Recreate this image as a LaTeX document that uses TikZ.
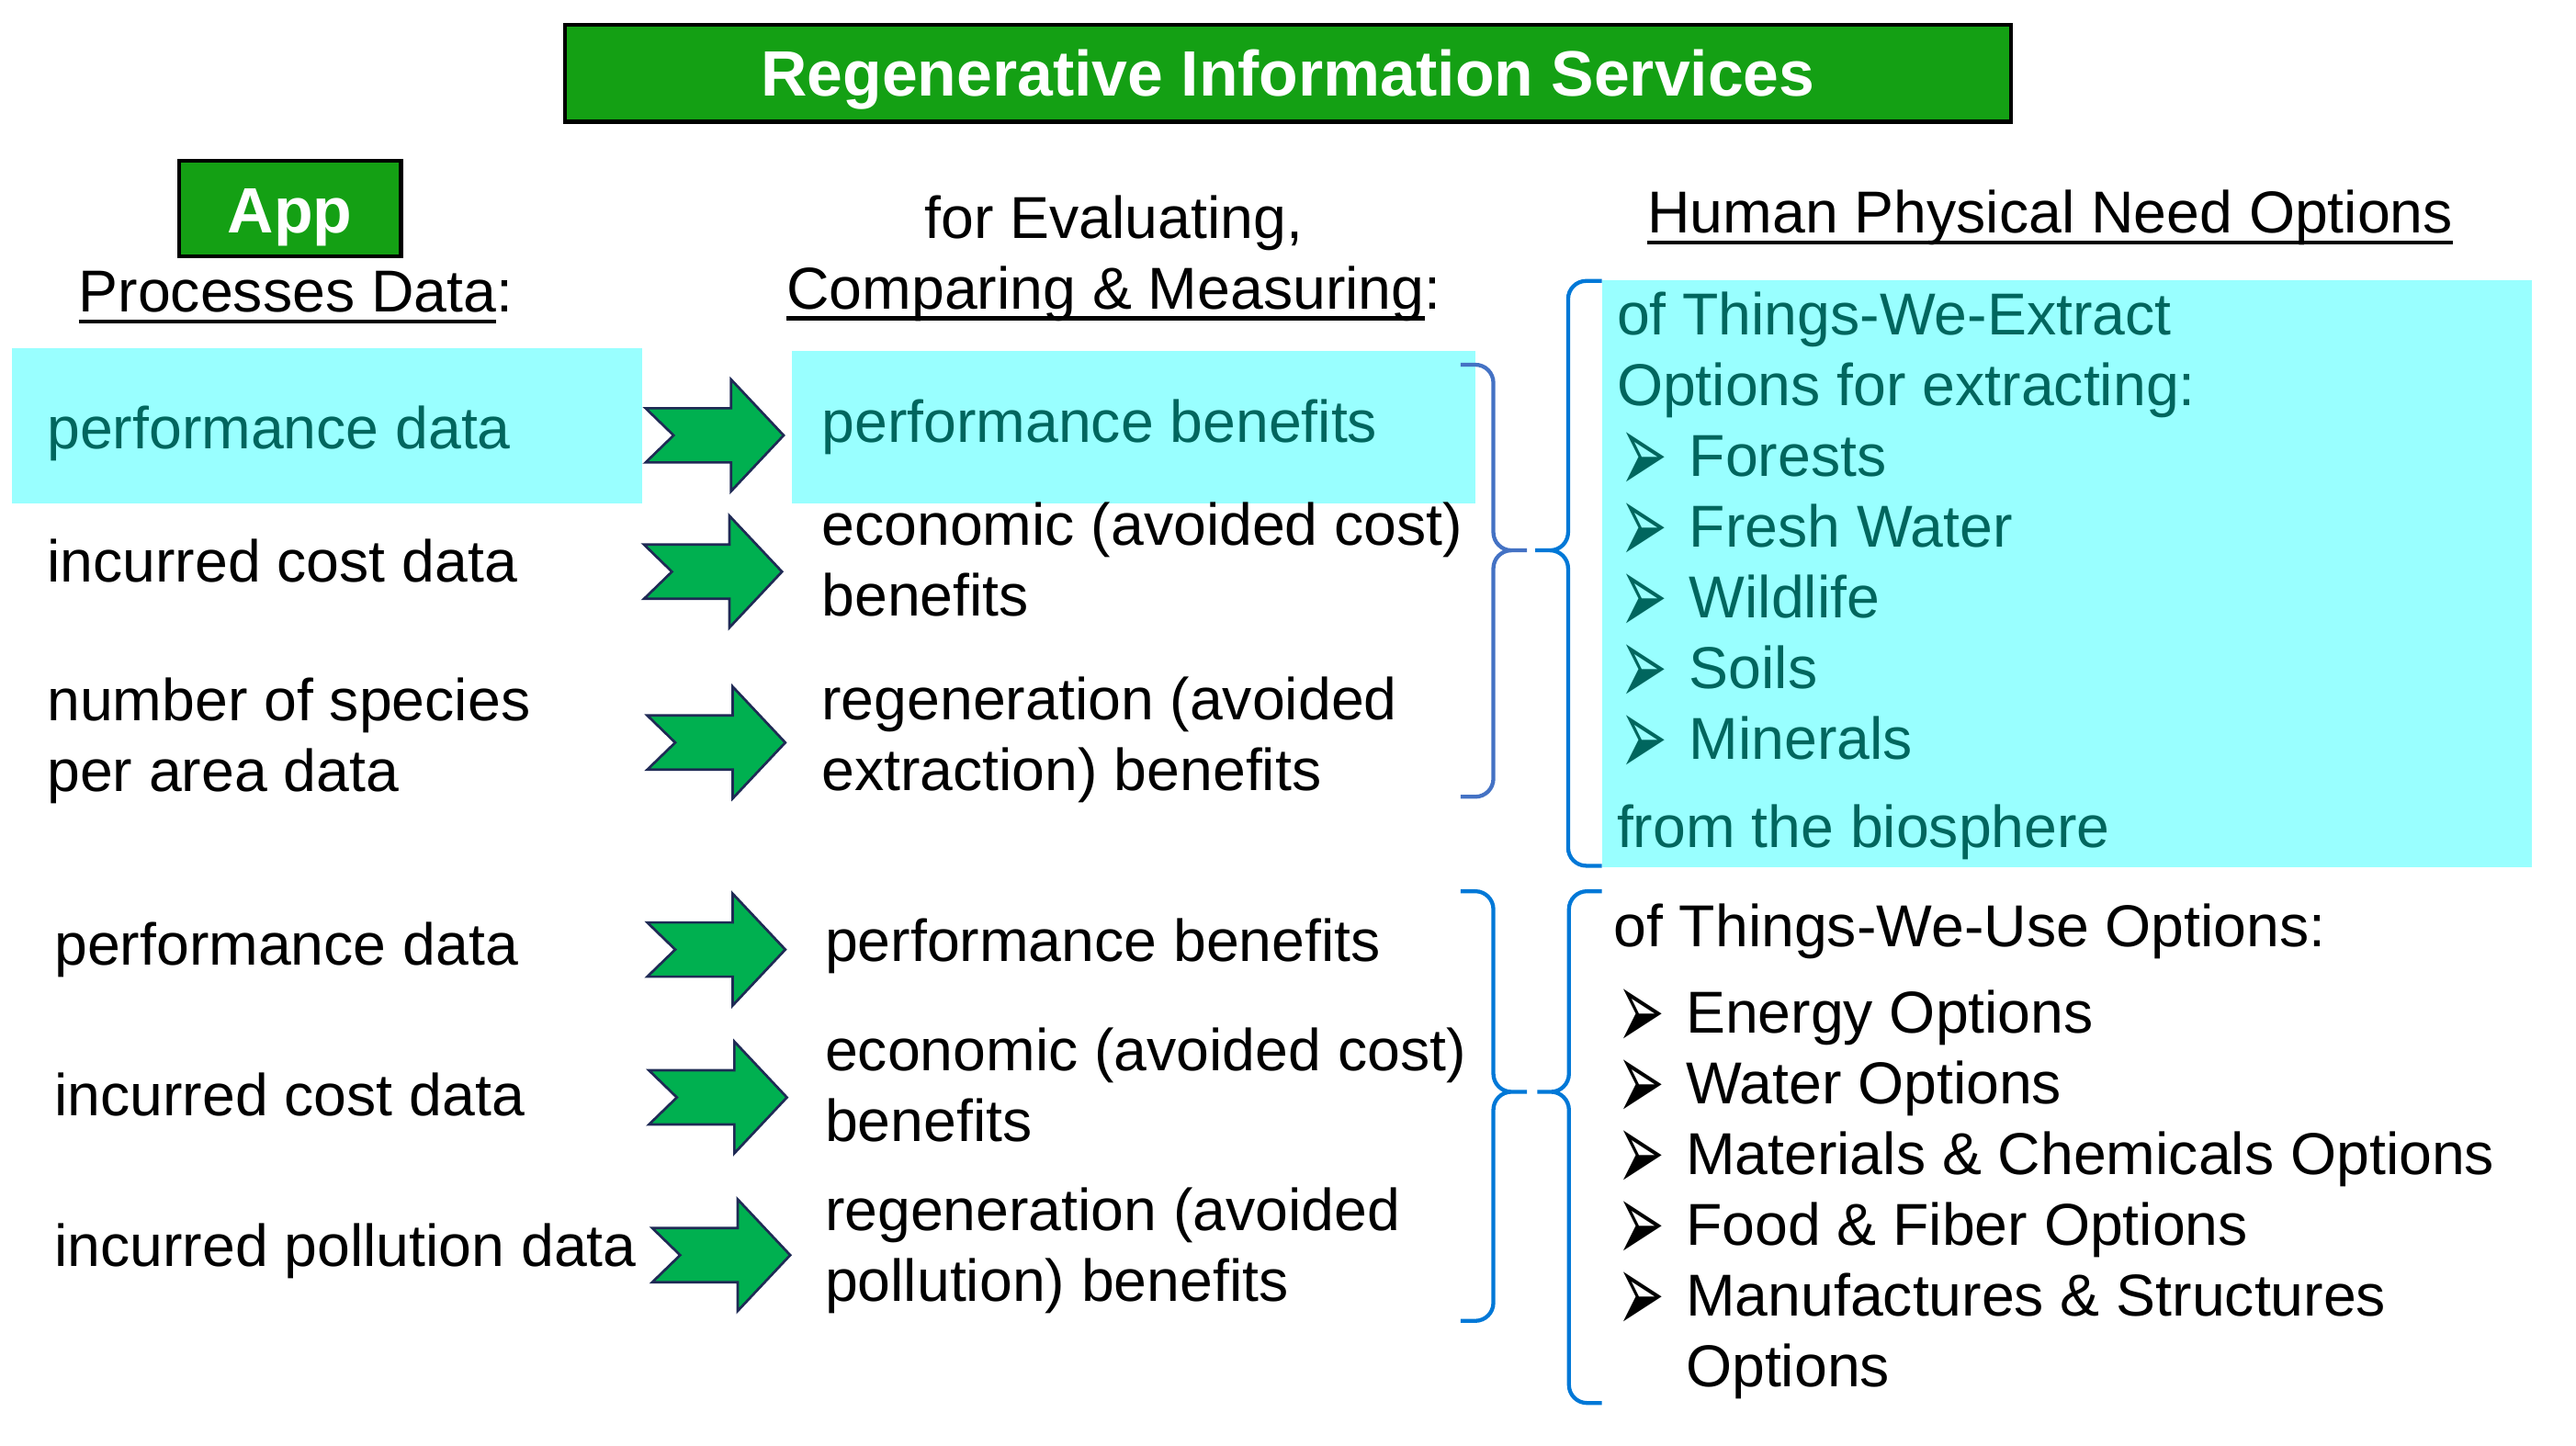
\documentclass[tikz,border=0pt]{standalone}
\usepackage{fontspec}
\usepackage{graphicx}
\setmainfont{Liberation Sans}
\newfontfamily\dingfont{DejaVu Sans}
\usepackage{tikz}
\usetikzlibrary{positioning}
\definecolor{titlegreen}{HTML}{14A014}
\definecolor{arrgreen}{HTML}{00B050}
\definecolor{arrnavy}{HTML}{1F2A55}
\definecolor{hlcyan}{HTML}{99FFFF}
\definecolor{tealtext}{HTML}{00665E}
\definecolor{bracegray}{HTML}{4472C4}
\definecolor{braceblue}{HTML}{0078D7}
\newsavebox\undlbox
\newcommand{\undl}[1]{\sbox\undlbox{#1}\rlap{\rule[-7pt]{\wd\undlbox}{2.5pt}}\usebox\undlbox}
\newcommand{\bul}{\makebox[44pt][l]{\hspace{2pt}\raisebox{-10pt}[0pt][0pt]{\scalebox{1.15}[2.3]{\dingfont\fontsize{30}{30}\selectfont ➢}}}}

\begin{document}
\begin{tikzpicture}[x=1pt,y=-1pt,
  every node/.style={font=\fontsize{36}{43}\selectfont,inner sep=0pt},
  greenbox/.style={draw=black,line width=2.5pt,fill=titlegreen,text=white,
                   font=\fontsize{39}{46}\selectfont\bfseries,text depth=0pt},
  lbl/.style={anchor=base west,align=left},
  hl/.style={fill=hlcyan},
  blockarr/.style={fill=arrgreen,draw=arrnavy,line width=1.5pt},
  brc/.style={line width=2.4pt,rounded corners=11pt}
]
\useasboundingbox (0,0) rectangle (1568,880);

% Title and headers
\node[greenbox,minimum width=880pt,minimum height=59pt,text height=28pt] (title)
  at (784,44.5) {Regenerative Information Services};
\node[greenbox,minimum width=135pt,minimum height=58pt,text height=30pt] (app)
  at (176.5,127) {App};
\node[anchor=base] (procdata) at (180,190) {\undl{Processes Data}:};
% multi-line nodes: base = last line
\node[anchor=base,align=center] (evalhdr) at (678,188)
  {for Evaluating,\\\undl{Comparing \& Measuring}:};
\node[anchor=base] (needhdr) at (1248,142) {\undl{Human Physical Need Options}};

% Highlights
\fill[hl] (7,212) rectangle (391,306.5);
\fill[hl] (482,213.7) rectangle (898,306.6);
\fill[hl] (975,170.6) rectangle (1541,528);

% Data column
\node[lbl,text=tealtext] (perfA) at (28.5,273) {performance data};
\node[lbl] (costA) at (28.5,354) {incurred cost data};
\node[lbl] (speciesA) at (28.5,481.5) {number of species\\per area data};
\node[lbl] (perfB) at (33,587.5) {performance data};
\node[lbl] (costB) at (33,679) {incurred cost data};
\node[lbl] (pollB) at (33,771) {incurred pollution data};

% Benefits column
\node[lbl,text=tealtext] (perfbenA) at (500,269) {performance benefits};
\node[lbl] (econA) at (500,375) {economic (avoided cost)\\benefits};
\node[lbl] (regenA) at (500,481) {regeneration (avoided\\extraction) benefits};
\node[lbl] (perfbenB) at (502,585) {performance benefits};
\node[lbl] (econB) at (502,695) {economic (avoided cost)\\benefits};
\node[lbl] (regenB) at (502,792) {regeneration (avoided\\pollution) benefits};

% Block arrows
\foreach \ax/\ay in {393/265,392/348,394/452,394/578,395/668,397/764}
  \draw[blockarr,shift={(\ax,\ay)}] (0,-16.5) -- (52,-16.5) -- (52,-34) -- (84,0)
    -- (52,34) -- (52,16.5) -- (0,16.5) -- (17,0) -- cycle;

% Braces
\draw[brc,bracegray] (889,222) -- (909,222) -- (909,335) -- (929.5,335)
  (929.5,335) -- (909,335) -- (909,485) -- (889,485);
\draw[brc,braceblue] (975,171) -- (954.5,171) -- (954.5,335) -- (934.5,335)
  (934.5,335) -- (954.5,335) -- (954.5,527) -- (975,527);
\draw[brc,braceblue] (889,542.5) -- (909,542.5) -- (909,664.6) -- (929.5,664.6)
  (929.5,664.6) -- (909,664.6) -- (909,804) -- (889,804);
\draw[brc,braceblue] (975,542.5) -- (955,542.5) -- (955,664.6) -- (935.7,664.6)
  (935.7,664.6) -- (955,664.6) -- (955,854) -- (975,854);

% Need options
\node[lbl,text=tealtext] (extract) at (984,516) {of Things-We-Extract\\
  Options for extracting:\\\bul Forests\\\bul Fresh Water\\\bul Wildlife\\
  \bul Soils\\\bul Minerals\\[11pt]from the biosphere};
\node[lbl] (use) at (982,844) {of Things-We-Use Options:\\[10pt]
  \bul Energy Options\\\bul Water Options\\\bul Materials \& Chemicals Options\\
  \bul Food \& Fiber Options\\\bul Manufactures \& Structures\\\hspace*{44pt}Options};

\end{tikzpicture}
\end{document}
